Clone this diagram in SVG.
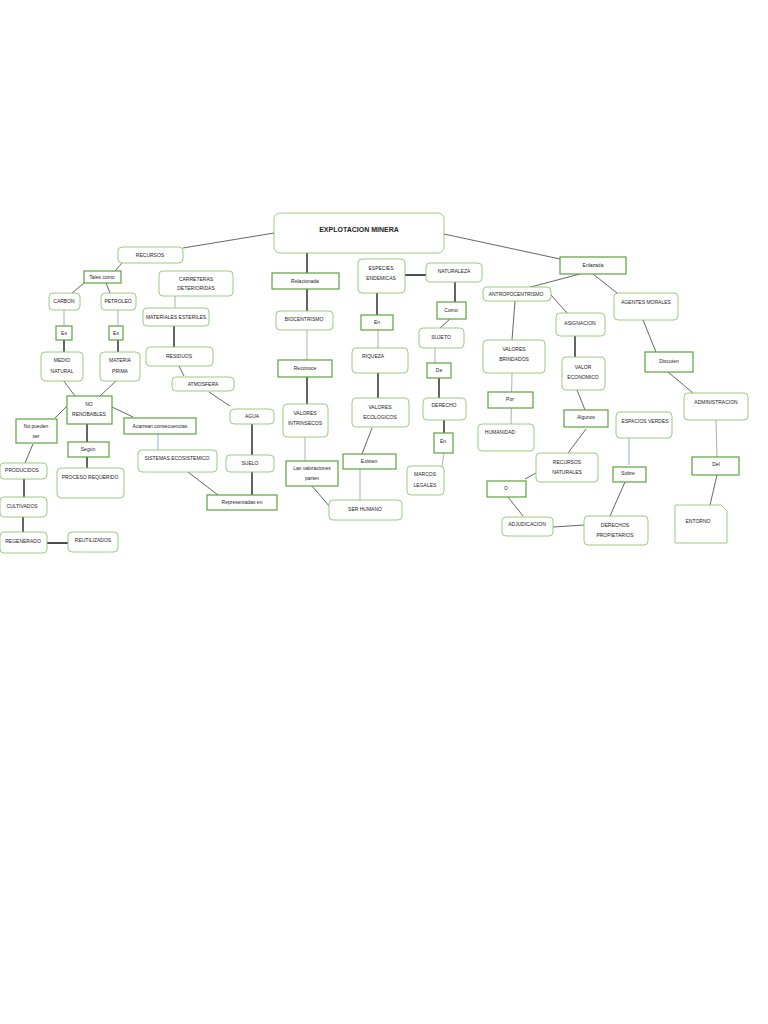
<svg xmlns="http://www.w3.org/2000/svg" width="768" height="1024" viewBox="0 0 768 1024">
<style>
.n{fill:#fff;stroke:#8cc872;stroke-width:0.9}
.l{fill:#fff;stroke:#5aa33c;stroke-width:1.2}
text{font-family:"Liberation Sans",Arial,sans-serif;font-size:5px;fill:#222;text-anchor:middle}
.k{stroke:#111;stroke-width:1.3;fill:none}
.g{stroke:#999;stroke-width:0.8;fill:none}
.d{stroke:#666;stroke-width:1;fill:none}
.b{stroke:#6aa0d8;stroke-width:0.8;fill:none}
</style>
<rect width="768" height="1024" fill="#fff"/>
<g id="connectors">
<path class="d" d="M274,233L183,248M444,234L560,259"/>
<path class="d" d="M122,263L115,271M84,283L72,293M106,283L110,293"/>
<path class="g" d="M64,310V326M118,310V325M175,296V308M307,330V360M305,437V461M378,330V348M360,469V500M435,348V363M444,453L442,466M512,373L511,425M716,420L717,457"/>
<path class="k" d="M64,340V352M118,340V352M174,326V347M87,424V442M87,457V468M252,424V455M252,472V495M24,479V497M23,517V532M47,543H68M307,251V273M307,289V311M307,377V404M405,275H426M377,293V315M378,373V398M455,282V302M439,378V398M444,420V433M575,336V357"/>
<path class="d" d="M63,380L75,396M117,380L100,396M179,366L184,376M209,392L230,406M67,406L55,418M112,407L133,417M188,472L218,495M33,444L25,463M312,486L330,507M372,428L362,454M450,319L440,328M580,274L523,289M593,274L617,293M551,295L567,313M515,301L512,340M643,320L656,352M668,372L693,393M577,390L585,410M586,429L568,453M536,473L525,479M508,497L523,516M553,527L584,525M625,482L610,516M717,475L710,505"/>
<path class="b" d="M158,434V450M629,438V465"/>
</g>
<g id="explotacion"><rect class="n" x="274" y="213" width="170" height="40" rx="6"/><text x="359" y="232" style="font-weight:bold;font-size:7px">EXPLOTACION MINERA</text></g>
<g id="recursos"><rect class="n" x="118" y="247" width="65" height="16" rx="4"/><text x="150" y="257">RECURSOS</text></g>
<g id="tales"><rect class="l" x="84" y="271" width="37" height="12"/><text x="102" y="279">Tales como</text></g>
<g id="carbon"><rect class="n" x="49" y="293" width="31" height="17" rx="4"/><text x="64" y="303">CARBON</text></g>
<g id="petroleo"><rect class="n" x="101" y="293" width="35" height="17" rx="4"/><text x="118" y="303">PETROLEO</text></g>
<g id="carreteras"><rect class="n" x="159" y="271" width="74" height="25" rx="4"/><text x="196" y="281">CARRETERAS</text><text x="196" y="290">DETERIORIDAS</text></g>
<g id="materiales"><rect class="n" x="143" y="308" width="66" height="18" rx="4"/><text x="176" y="319">MATERIALES ESTERILES</text></g>
<g id="es1"><rect class="l" x="56" y="326" width="16" height="14"/><text x="64" y="335">Es</text></g>
<g id="es2"><rect class="l" x="109" y="326" width="14" height="14"/><text x="116" y="335">Es</text></g>
<g id="medio"><rect class="n" x="41" y="352" width="42" height="29" rx="4"/><text x="62" y="362">MEDIO</text><text x="62" y="373">NATURAL</text></g>
<g id="materia"><rect class="n" x="100" y="352" width="40" height="29" rx="4"/><text x="120" y="362">MATERIA</text><text x="120" y="373">PRIMA</text></g>
<g id="residuos"><rect class="n" x="146" y="347" width="67" height="19" rx="4"/><text x="179" y="358">RESIDUOS</text></g>
<g id="atmosfera"><rect class="n" x="172" y="377" width="62" height="14" rx="4"/><text x="203" y="386">ATMOSFERA</text></g>
<g id="agua"><rect class="n" x="230" y="409" width="44" height="15" rx="4"/><text x="252" y="418">AGUA</text></g>
<g id="norenobables"><rect class="l" x="67" y="396" width="45" height="28"/><text x="89" y="406">NO</text><text x="89" y="416">RENOBABLES</text></g>
<g id="nopueden"><rect class="l" x="16" y="419" width="41" height="24"/><text x="36" y="428">No pueden</text><text x="36" y="438">ser</text></g>
<g id="acarrean"><rect class="l" x="124" y="418" width="72" height="16"/><text x="160" y="428">Acarrean consecuencias</text></g>
<g id="segun"><rect class="l" x="68" y="442" width="41" height="15"/><text x="88" y="451">Según</text></g>
<g id="sistemas"><rect class="n" x="138" y="450" width="79" height="22" rx="4"/><text x="177" y="460">SISTEMAS ECOSISTEMICO</text></g>
<g id="suelo"><rect class="n" x="226" y="455" width="48" height="17" rx="4"/><text x="250" y="465">SUELO</text></g>
<g id="producidos"><rect class="n" x="0" y="463" width="47" height="16" rx="4"/><text x="22" y="472">PRODUCIDOS</text></g>
<g id="proceso"><rect class="n" x="57" y="468" width="67" height="30" rx="4"/><text x="90" y="479">PROCESO REQUERIDO</text></g>
<g id="representadas"><rect class="l" x="207" y="495" width="70" height="15"/><text x="242" y="504">Representadas en</text></g>
<g id="cultivados"><rect class="n" x="0" y="497" width="47" height="20" rx="4"/><text x="22" y="508">CULTIVADOS</text></g>
<g id="regenerado"><rect class="n" x="0" y="532" width="47" height="21" rx="4"/><text x="23" y="543">REGENERADO</text></g>
<g id="reutilizados"><rect class="n" x="68" y="532" width="50" height="20" rx="4"/><text x="93" y="542">REUTILIZADOS</text></g>
<g id="relacionada"><rect class="l" x="272" y="273" width="67" height="16"/><text x="305" y="283">Relacionada</text></g>
<g id="biocentrismo"><rect class="n" x="276" y="311" width="57" height="19" rx="4"/><text x="304" y="321">BIOCENTRISMO</text></g>
<g id="reconoce"><rect class="l" x="278" y="360" width="54" height="17"/><text x="305" y="370">Reconoce</text></g>
<g id="intrinsecos"><rect class="n" x="283" y="404" width="45" height="33" rx="4"/><text x="305" y="415">VALORES</text><text x="305" y="425">INTRINSECOS</text></g>
<g id="valoraciones"><rect class="l" x="286" y="461" width="52" height="25"/><text x="312" y="470">Las valoraciones</text><text x="312" y="480">parten</text></g>
<g id="serhumano"><rect class="n" x="329" y="500" width="73" height="20" rx="4"/><text x="365" y="511">SER HUMANO</text></g>
<g id="especies"><rect class="n" x="358" y="259" width="47" height="34" rx="4"/><text x="381" y="270">ESPECIES</text><text x="381" y="280">ENDEMICAS</text></g>
<g id="naturaleza"><rect class="n" x="426" y="263" width="56" height="19" rx="4"/><text x="454" y="273">NATURALEZA</text></g>
<g id="en1"><rect class="l" x="361" y="315" width="32" height="15"/><text x="377" y="324">En</text></g>
<g id="riqueza"><rect class="n" x="352" y="348" width="56" height="25" rx="4"/><text x="373" y="358">RIQUEZA</text></g>
<g id="ecologicos"><rect class="n" x="352" y="398" width="57" height="29" rx="4"/><text x="380" y="409">VALORES</text><text x="380" y="419">ECOLOGICOS</text></g>
<g id="existen"><rect class="l" x="343" y="454" width="53" height="15"/><text x="369" y="463">Existen</text></g>
<g id="como"><rect class="l" x="437" y="302" width="29" height="17"/><text x="451" y="312">Como</text></g>
<g id="sujeto"><rect class="n" x="419" y="328" width="45" height="20" rx="4"/><text x="441" y="339">SUJETO</text></g>
<g id="de"><rect class="l" x="427" y="363" width="24" height="15"/><text x="439" y="372">De</text></g>
<g id="derecho"><rect class="n" x="423" y="398" width="43" height="22" rx="4"/><text x="444" y="407">DERECHO</text></g>
<g id="en2"><rect class="l" x="434" y="433" width="19" height="20"/><text x="443" y="443">En</text></g>
<g id="marcos"><rect class="n" x="407" y="466" width="37" height="29" rx="4"/><text x="425" y="476">MARCOS</text><text x="425" y="487">LEGALES</text></g>
<g id="enlazada"><rect class="l" x="560" y="257" width="66" height="17"/><text x="593" y="267">Enlazada</text></g>
<g id="antropocentrismo"><rect class="n" x="483" y="287" width="68" height="14" rx="4"/><text x="516" y="296">ANTROPOCENTRISMO</text></g>
<g id="agentes"><rect class="n" x="614" y="293" width="64" height="27" rx="4"/><text x="646" y="304">AGENTES MORALES</text></g>
<g id="asignacion"><rect class="n" x="556" y="313" width="49" height="23" rx="4"/><text x="580" y="325">ASIGNACION</text></g>
<g id="brindados"><rect class="n" x="483" y="340" width="62" height="33" rx="4"/><text x="514" y="351">VALORES</text><text x="514" y="361">BRINDADOS</text></g>
<g id="valoreco"><rect class="n" x="562" y="357" width="43" height="33" rx="4"/><text x="583" y="369">VALOR</text><text x="583" y="379">ECONOMICO</text></g>
<g id="discuten"><rect class="l" x="645" y="352" width="48" height="20"/><text x="669" y="363">Discuten</text></g>
<g id="administracion"><rect class="n" x="684" y="393" width="64" height="27" rx="4"/><text x="716" y="404">ADMINISTRACION</text></g>
<g id="por"><rect class="l" x="488" y="392" width="45" height="16"/><text x="510" y="401">Por</text></g>
<g id="humanidad"><rect class="n" x="478" y="424" width="56" height="27" rx="4"/><text x="500" y="434">HUMANIDAD</text></g>
<g id="algunos"><rect class="l" x="564" y="410" width="44" height="17"/><text x="586" y="419">Algunos</text></g>
<g id="espacios"><rect class="n" x="616" y="412" width="56" height="26" rx="4"/><text x="645" y="423">ESPACIOS VERDES</text></g>
<g id="recnat"><rect class="n" x="536" y="453" width="62" height="29" rx="4"/><text x="567" y="464">RECURSOS</text><text x="567" y="474">NATURALES</text></g>
<g id="sobre"><rect class="l" x="613" y="467" width="33" height="15"/><text x="628" y="475">Sobre</text></g>
<g id="del"><rect class="l" x="692" y="457" width="47" height="18"/><text x="716" y="466">Del</text></g>
<g id="o"><rect class="l" x="487" y="481" width="39" height="16"/><text x="506" y="490">O</text></g>
<g id="adjudicacion"><rect class="n" x="502" y="517" width="51" height="19" rx="4"/><text x="527" y="526">ADJUDICACION</text></g>
<g id="derechos"><rect class="n" x="584" y="516" width="64" height="29" rx="4"/><text x="615" y="527">DERECHOS</text><text x="615" y="537">PROPIETARIOS</text></g>
<g id="entorno"><path class="n" d="M675,505H721L727,511V543H675Z"/><text x="698" y="523">ENTORNO</text></g>
</svg>
